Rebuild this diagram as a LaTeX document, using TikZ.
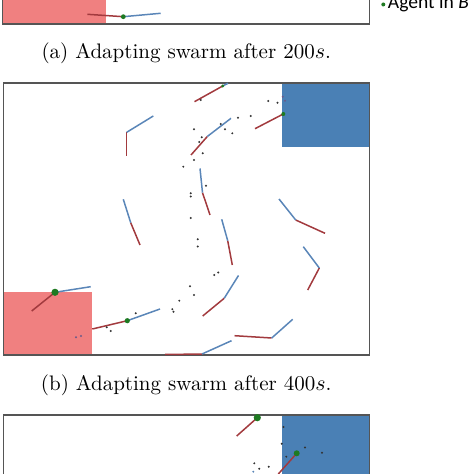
\documentclass[tikz,border=0pt]{standalone}
\usepackage{fontspec}
\newfontfamily\legfont{Carlito}
\definecolor{agred}{HTML}{A23A3E}
\definecolor{agblue}{HTML}{5A86B8}
\definecolor{boxred}{HTML}{F08080}
\definecolor{boxblue}{HTML}{4A80B5}
\definecolor{aggreen}{HTML}{1E7A22}
\definecolor{frcol}{HTML}{555555}
\definecolor{dotc}{HTML}{333333}
\definecolor{dotp}{HTML}{6A5A8A}
\tikzset{
  rl/.style={draw=agred, line width=0.75pt},
  bl/.style={draw=agblue, line width=0.75pt},
  fr/.style={draw=frcol, line width=0.65pt},
  captext/.style={anchor=base, inner sep=0pt, font=\fontsize{10.5}{12}\selectfont},
}
\newcommand\swagent[3]{\draw[rl] (#1) -- (#2); \draw[bl] (#2) -- (#3);}
\newcommand\sdot[1]{\fill[dotc] (#1) circle (0.55pt);}
\newcommand\pdot[1]{\fill[dotp] (#1) circle (0.55pt);}
\newcommand\gdot[2]{\fill[aggreen] (#1) circle (#2);}
\begin{document}
\begin{tikzpicture}[x=0.5pt,y=-0.5pt]
\useasboundingbox (0,0) rectangle (474,474);
\clip (0,0) rectangle (474,474);
% ---------- panel (a) ----------
\fill[boxred] (2.7,-10) rectangle (106,24);
\draw[fr] (2.7,-10) rectangle (369.3,24);
\swagent{87.3,14.3}{123.3,16.7}{160.7,13.3}
\gdot{123.3,16.7}{1.2pt}
\gdot{383.3,4.5}{1pt}
\node[anchor=base west, inner sep=0pt, font=\legfont\fontsize{9.8}{11}\selectfont] (leg) at (387.5,8.6) {Agent in \textit{B}};
\node[captext] (capa) at (186.2,58.3) {(a) Adapting swarm after 200$s$.};
% ---------- panel (b) ----------
\fill[boxblue] (282,83) rectangle (369.3,147);
\fill[boxred] (3.3,291.7) rectangle (91.7,355);
\draw[fr] (3.3,83) rectangle (369.3,355);
\swagent{194.5,101.7}{222.7,86}{228,83.3}
\gdot{222.7,86}{0.8pt}
\swagent{126.7,156}{126.7,132.3}{153.3,116}
\swagent{191,155}{207.3,136.5}{231,118.3}
\draw[rl] (255,128.7) -- (283.3,114);
\gdot{283.3,114}{1pt}
\swagent{210,215}{202.5,192.7}{200,168.5}
\swagent{140,245}{130.7,222.7}{123.3,199.3}
\swagent{232.3,265}{227.7,240.7}{221.7,219.3}
\swagent{325,233.3}{295.7,220}{279,199}
\swagent{307.7,290}{319.3,268}{303.3,246.7}
\swagent{202.7,316}{224.2,298.3}{238.5,275.5}
\swagent{234.5,335.7}{271.7,338}{292.7,319.3}
\swagent{165,354.5}{202,354}{231.5,340.7}
\swagent{31.7,311}{55,292.3}{90.7,286.7}
\gdot{55,292.3}{1.8pt}
\swagent{92.3,329}{127.3,320.7}{160,309}
\gdot{127.3,320.7}{1.3pt}
\foreach \p in {{200.7,100},{194,129.3},{199.3,142},{201.7,137.3},{202.7,153.3},{194,160},{183.3,166.7},{220.7,124},{225,129.3},{232.3,133.3},{238,117.7},{250.7,116},{268.3,101},{277.5,102.7},{206,185.7},{190.7,193.3},{190.7,196.5},{190.7,218},{197.7,239.3},{197.7,246.5},{214.3,275},{218.3,272.5},{190,286.3},{194,295},{179.3,300.7},{172.3,309.2},{173.5,311.7},{106.7,327.3},{110.7,331},{135.7,313.3}}{\sdot{\p}}
\foreach \p in {{282.7,96.7},{285,100.7},{76,337.3},{81,336}}{\pdot{\p}}
\node[captext] (capb) at (186.2,390) {(b) Adapting swarm after 400$s$.};
% ---------- panel (c) ----------
\fill[boxblue] (281.7,415) rectangle (369.3,480);
\draw[fr] (3.3,415) rectangle (369.3,480);
\draw[rl] (236.7,436) -- (257.3,417.7);
\gdot{257.3,417.7}{1.8pt}
\draw[rl] (278.3,474) -- (296.7,453.3);
\gdot{296.7,453.3}{1.5pt}
\foreach \p in {{283.5,427},{281.7,443.7},{286.3,456.7},{305,447.5},{322,452.7},{254.3,463.3},{268.7,466.7},{259.2,468.8}}{\sdot{\p}}
\fill[agblue] (253.3,471.7) circle (0.55pt);
\end{tikzpicture}
\end{document}
